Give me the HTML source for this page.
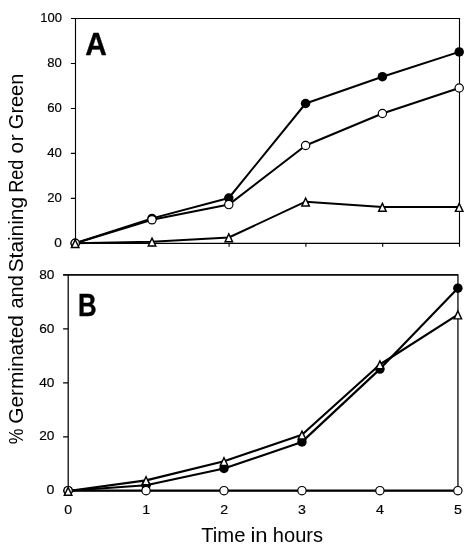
<!DOCTYPE html>
<html lang="en"><head><meta charset="utf-8"><title>Germination time course</title>
<style>html,body{margin:0;padding:0;background:#fff}body{width:474px;height:550px;overflow:hidden}svg text{font-family:"Liberation Sans", sans-serif}</style>
</head><body>
<svg width="474" height="550" viewBox="0 0 474 550" style="display:block">
<rect width="474" height="550" fill="#fff"/>
<path d="M70.90 18.50H459.50V246.75M75.50 18.50V246.75M70.90 243.35H459.50M70.90 198.38H75.50M70.90 153.41H75.50M70.90 108.44H75.50M70.90 63.47H75.50M152.30 243.35V246.75M229.10 243.35V246.75M305.90 243.35V246.75M382.70 243.35V246.75" fill="none" stroke="#000" stroke-width="1.12"/>
<polyline points="75.20,243.30 152.00,218.40 228.80,198.00 305.60,103.50 382.40,76.70 459.20,51.90" fill="none" stroke="#000" stroke-width="2.0" stroke-linejoin="round"/>
<polyline points="75.20,243.30 152.00,219.80 228.80,204.60 305.60,145.50 382.40,113.50 459.20,88.00" fill="none" stroke="#000" stroke-width="2.0" stroke-linejoin="round"/>
<polyline points="75.20,243.30 152.00,241.70 228.80,237.50 305.60,201.70 382.40,207.00 459.20,207.10" fill="none" stroke="#000" stroke-width="2.0" stroke-linejoin="round"/>
<circle cx="75.20" cy="243.30" r="4.75" fill="#000"/>
<circle cx="152.00" cy="218.40" r="4.75" fill="#000"/>
<circle cx="228.80" cy="198.00" r="4.75" fill="#000"/>
<circle cx="305.60" cy="103.50" r="4.75" fill="#000"/>
<circle cx="382.40" cy="76.70" r="4.75" fill="#000"/>
<circle cx="459.20" cy="51.90" r="4.75" fill="#000"/>
<circle cx="75.20" cy="243.30" r="4.15" fill="#fff" stroke="#000" stroke-width="1.2"/>
<circle cx="152.00" cy="219.80" r="4.15" fill="#fff" stroke="#000" stroke-width="1.2"/>
<circle cx="228.80" cy="204.60" r="4.15" fill="#fff" stroke="#000" stroke-width="1.2"/>
<circle cx="305.60" cy="145.50" r="4.15" fill="#fff" stroke="#000" stroke-width="1.2"/>
<circle cx="382.40" cy="113.50" r="4.15" fill="#fff" stroke="#000" stroke-width="1.2"/>
<circle cx="459.20" cy="88.00" r="4.15" fill="#fff" stroke="#000" stroke-width="1.2"/>
<path d="M75.20 239.70L78.95 247.55H71.45Z" fill="#fff" stroke="#000" stroke-width="1.45" stroke-linejoin="miter"/>
<path d="M152.00 238.10L155.75 245.95H148.25Z" fill="#fff" stroke="#000" stroke-width="1.45" stroke-linejoin="miter"/>
<path d="M228.80 233.90L232.55 241.75H225.05Z" fill="#fff" stroke="#000" stroke-width="1.45" stroke-linejoin="miter"/>
<path d="M305.60 198.10L309.35 205.95H301.85Z" fill="#fff" stroke="#000" stroke-width="1.45" stroke-linejoin="miter"/>
<path d="M382.40 203.40L386.15 211.25H378.65Z" fill="#fff" stroke="#000" stroke-width="1.45" stroke-linejoin="miter"/>
<path d="M459.20 203.50L462.95 211.35H455.45Z" fill="#fff" stroke="#000" stroke-width="1.45" stroke-linejoin="miter"/>
<path d="M63.10 274.95H457.95V494.10M68.20 274.95V494.10M63.10 490.70H457.95M63.10 436.76H68.20M63.10 382.82H68.20M63.10 328.89H68.20M146.15 490.70V494.10M224.10 490.70V494.10M302.05 490.70V494.10M380.00 490.70V494.10" fill="none" stroke="#000" stroke-width="1.25"/>
<path d="M63.10 274.95H457.95" fill="none" stroke="#000" stroke-width="1.3"/>
<polyline points="68.10,490.70 146.05,485.30 224.00,468.50 301.95,441.90 379.90,369.10 457.85,288.20" fill="none" stroke="#000" stroke-width="2.15" stroke-linejoin="round"/>
<polyline points="68.10,491.00 146.05,480.40 224.00,461.30 301.95,434.70 379.90,364.50 457.85,314.60" fill="none" stroke="#000" stroke-width="2.15" stroke-linejoin="round"/>
<polyline points="68.10,490.65 146.05,490.65 224.00,490.65 301.95,490.65 379.90,490.65 457.85,490.65" fill="none" stroke="#000" stroke-width="2.1" stroke-linejoin="round"/>
<circle cx="68.10" cy="490.70" r="4.75" fill="#000"/>
<circle cx="146.05" cy="485.30" r="4.75" fill="#000"/>
<circle cx="224.00" cy="468.50" r="4.75" fill="#000"/>
<circle cx="301.95" cy="441.90" r="4.75" fill="#000"/>
<circle cx="379.90" cy="369.10" r="4.75" fill="#000"/>
<circle cx="457.85" cy="288.20" r="4.75" fill="#000"/>
<circle cx="68.10" cy="490.65" r="4.15" fill="#fff" stroke="#000" stroke-width="1.2"/>
<circle cx="146.05" cy="490.65" r="4.15" fill="#fff" stroke="#000" stroke-width="1.2"/>
<circle cx="224.00" cy="490.65" r="4.15" fill="#fff" stroke="#000" stroke-width="1.2"/>
<circle cx="301.95" cy="490.65" r="4.15" fill="#fff" stroke="#000" stroke-width="1.2"/>
<circle cx="379.90" cy="490.65" r="4.15" fill="#fff" stroke="#000" stroke-width="1.2"/>
<circle cx="457.85" cy="490.65" r="4.15" fill="#fff" stroke="#000" stroke-width="1.2"/>
<path d="M68.10 487.40L71.85 495.25H64.35Z" fill="#fff" stroke="#000" stroke-width="1.45" stroke-linejoin="miter"/>
<path d="M146.05 476.80L149.80 484.65H142.30Z" fill="#fff" stroke="#000" stroke-width="1.45" stroke-linejoin="miter"/>
<path d="M224.00 457.70L227.75 465.55H220.25Z" fill="#fff" stroke="#000" stroke-width="1.45" stroke-linejoin="miter"/>
<path d="M301.95 431.10L305.70 438.95H298.20Z" fill="#fff" stroke="#000" stroke-width="1.45" stroke-linejoin="miter"/>
<path d="M379.90 360.90L383.65 368.75H376.15Z" fill="#fff" stroke="#000" stroke-width="1.45" stroke-linejoin="miter"/>
<path d="M457.85 311.00L461.60 318.85H454.10Z" fill="#fff" stroke="#000" stroke-width="1.45" stroke-linejoin="miter"/>
<g font-family='"Liberation Sans", sans-serif' fill="#000">
<g font-size="12.6" stroke="#000" stroke-width="0.16">
<text x="61.90" y="246.70" text-anchor="end" textLength="7.63" lengthAdjust="spacingAndGlyphs">0</text>
<text x="61.90" y="201.73" text-anchor="end" textLength="14.66" lengthAdjust="spacingAndGlyphs">20</text>
<text x="61.90" y="156.76" text-anchor="end" textLength="14.66" lengthAdjust="spacingAndGlyphs">40</text>
<text x="61.90" y="111.79" text-anchor="end" textLength="14.66" lengthAdjust="spacingAndGlyphs">60</text>
<text x="61.90" y="66.82" text-anchor="end" textLength="14.66" lengthAdjust="spacingAndGlyphs">80</text>
<text x="61.90" y="21.85" text-anchor="end" textLength="21.69" lengthAdjust="spacingAndGlyphs">100</text>
<text x="54.40" y="494.40" text-anchor="end" textLength="7.90" lengthAdjust="spacingAndGlyphs">0</text>
<text x="54.40" y="440.46" text-anchor="end" textLength="15.20" lengthAdjust="spacingAndGlyphs">20</text>
<text x="54.40" y="386.52" text-anchor="end" textLength="15.20" lengthAdjust="spacingAndGlyphs">40</text>
<text x="54.40" y="332.59" text-anchor="end" textLength="15.20" lengthAdjust="spacingAndGlyphs">60</text>
<text x="54.40" y="278.65" text-anchor="end" textLength="15.20" lengthAdjust="spacingAndGlyphs">80</text>
<text x="68.20" y="513.80" text-anchor="middle" textLength="7.90" lengthAdjust="spacingAndGlyphs">0</text>
<text x="146.15" y="513.80" text-anchor="middle" textLength="7.90" lengthAdjust="spacingAndGlyphs">1</text>
<text x="224.10" y="513.80" text-anchor="middle" textLength="7.90" lengthAdjust="spacingAndGlyphs">2</text>
<text x="302.05" y="513.80" text-anchor="middle" textLength="7.90" lengthAdjust="spacingAndGlyphs">3</text>
<text x="380.00" y="513.80" text-anchor="middle" textLength="7.90" lengthAdjust="spacingAndGlyphs">4</text>
<text x="457.95" y="513.80" text-anchor="middle" textLength="7.90" lengthAdjust="spacingAndGlyphs">5</text>
</g>
<text x="85.15" y="55.15" font-size="31.3" font-weight="bold" textLength="21.6" lengthAdjust="spacingAndGlyphs" stroke="#000" stroke-width="0.3">A</text>
<text x="78.1" y="316.2" font-size="31" font-weight="bold" textLength="18.6" lengthAdjust="spacingAndGlyphs" stroke="#000" stroke-width="0.4">B</text>
<g font-size="19.8">
<text x="201.24" y="541.5" textLength="44.30" lengthAdjust="spacingAndGlyphs">Time</text>
<text x="250.46" y="541.5" textLength="17.15" lengthAdjust="spacingAndGlyphs">in</text>
<text x="272.84" y="541.5" textLength="50.22" lengthAdjust="spacingAndGlyphs">hours</text>
</g>
<g transform="translate(23.45 0) rotate(-90)" font-size="19.8">
<text x="-444.21" y="0" textLength="15.72" lengthAdjust="spacingAndGlyphs">%</text>
<text x="-423.77" y="0" textLength="108.72" lengthAdjust="spacingAndGlyphs">Germinated</text>
<text x="-308.64" y="0" textLength="33.40" lengthAdjust="spacingAndGlyphs">and</text>
<text x="-272.34" y="0" textLength="75.39" lengthAdjust="spacingAndGlyphs">Staining</text>
<text x="-192.78" y="0" textLength="33.09" lengthAdjust="spacingAndGlyphs">Red</text>
<text x="-153.64" y="0" textLength="20.39" lengthAdjust="spacingAndGlyphs" letter-spacing="1">or</text>
<text x="-129.15" y="0" textLength="55.45" lengthAdjust="spacingAndGlyphs">Green</text>
</g>
</g>
</svg>
</body></html>
